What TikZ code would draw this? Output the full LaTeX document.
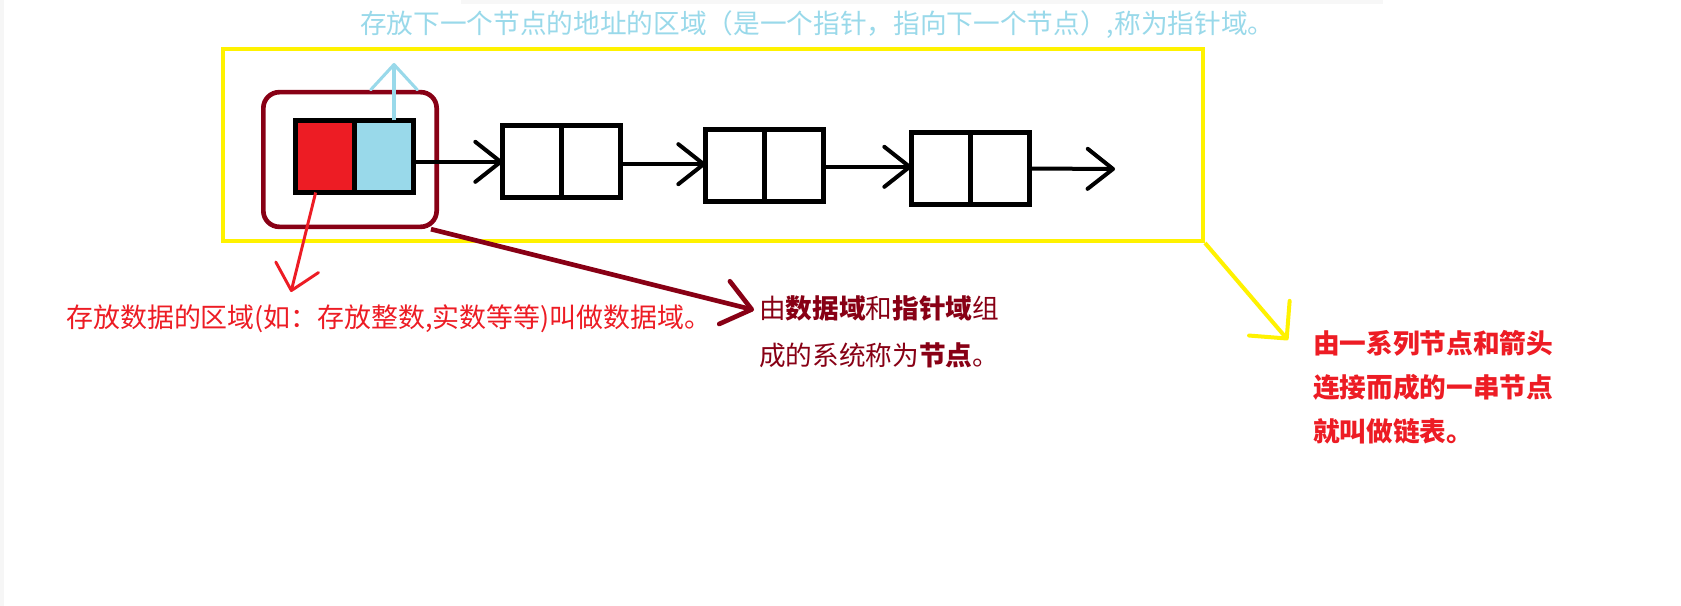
\documentclass[tikz,border=0pt]{standalone}
\usepackage{fontspec}
\setmainfont{Noto Sans CJK SC}
\usetikzlibrary{arrows.meta}
\definecolor{paintred}{HTML}{ED1C24}
\definecolor{paintblue}{HTML}{99D9EA}
\definecolor{paintdark}{HTML}{880015}
\definecolor{paintyellow}{HTML}{FFF200}
\tikzset{
  half/.style={draw=black,line width=3.5pt,minimum width=44pt,minimum height=54pt,inner sep=0pt,outer sep=0pt},
  link/.style={line width=3pt,-{Straight Barb[length=19pt,width=30pt,round]}},
  note/.style={inner sep=0pt,anchor=west}
}
\begin{document}
\begin{tikzpicture}[x=0.75pt,y=-0.75pt]
  \useasboundingbox[fill=white] (0,0) rectangle (1681,606);
  % screenshot edges
  \fill[gray!7] (0,0) rectangle (4,606);
  \fill[gray!6] (461,0) rectangle (1383,4);
  % frames
  \node[draw=paintyellow,line width=3pt,minimum width=735pt,minimum height=144pt] (list) at (713,145) {};
  \node[draw=paintdark,line width=3.5pt,rounded corners=12pt,minimum width=130pt,minimum height=101pt] (grp) at (350,159.5) {};
  % the four nodes
  \foreach \i/\x/\y/\dc/\pc in {1/293/118/paintred/paintblue, 2/500/123/white/white, 3/703/127/white/white, 4/909/130/white/white} {
    \node[half,fill=\dc] (d\i) at (\x+32,\y+38.5) {};
    \node[half,fill=\pc] (p\i) at (\x+91,\y+38.5) {};
  }
  \coordinate (end) at (1115,169);
  \draw[link] ([yshift=-4pt]p1.east) -- ([yshift=-4pt]p1.east -| d2.west);
  \draw[link] ([yshift=-2pt]p2.east) -- ([yshift=-2pt]p2.east -| d3.west);
  \draw[link] ([yshift=-1pt]p3.east) -- ([yshift=-1pt]p3.east -| d4.west);
  \draw[link] (p4.east) -- (end);
  % notes
  \node[note,text=paintblue,font={\fontsize{20pt}{24pt}\selectfont}] (ptrnote) at (360,25) {存放下一个节点的地址的区域（是一个指针，指向下一个节点）,称为指针域。};
  \node[note,text=paintred,font={\fontsize{20.2pt}{24pt}\selectfont}] (datanote) at (66,319) {存放数据的区域(如：存放整数,实数等等)叫做数据域。};
  \node[note,text=paintdark,align=left,font={\fontsize{20pt}{35pt}\selectfont}] (nodenote) at (759,332) {由\textbf{数据域}和\textbf{指针域}组\\成的系统称为\textbf{节点}。};
  \node[note,text=paintred,align=left,font={\fontsize{20pt}{33pt}\selectfont\bfseries}] (listnote) at (1313,387) {由一系列节点和箭头\\连接而成的一串节点\\就叫做链表。};
  % callout arrows
  \coordinate (ptip) at (394,63);
  \coordinate (dtip) at (291,292);
  \coordinate (ntip) at (754,310);
  \coordinate (ltip) at (1288,340);
  \draw[paintblue,line width=2.3pt,-{Straight Barb[length=19pt,width=35pt,round]}] (p1.north -| ptip) -- (ptip);
  \draw[paintred,line width=2.2pt,-{Straight Barb[length=18pt,width=33pt,round]}] ([xshift=-7pt]d1.south) -- (dtip);
  \draw[paintdark,line width=3.5pt,-{Straight Barb[length=21pt,width=33pt,round]}] ([xshift=-6pt]grp.south east) -- (ntip);
  \draw[paintyellow,line width=3pt,-{Straight Barb[length=20pt,width=40pt,round]}] (list.south east) -- (ltip);
\end{tikzpicture}
\end{document}
